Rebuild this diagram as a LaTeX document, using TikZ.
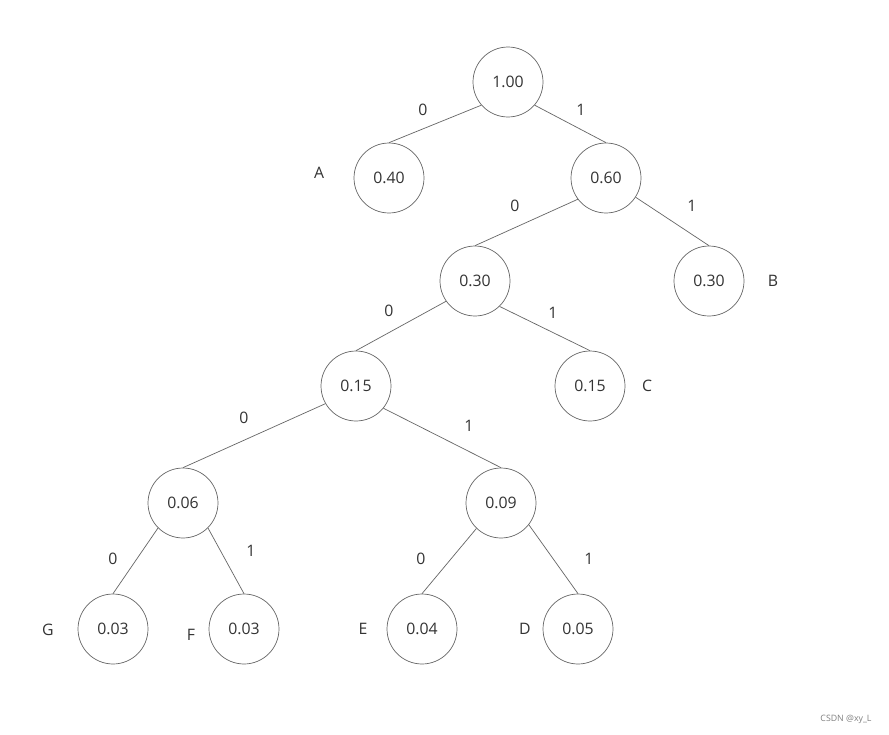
\documentclass[tikz,border=0pt]{standalone}
\usepackage{fontspec}
\setmainfont{Open Sans}
\usepackage{tikz}
\usetikzlibrary{positioning}
\usepackage{xcolor}

\definecolor{edgegray}{HTML}{666666}
\definecolor{textgray}{HTML}{333333}

\begin{document}
\begin{tikzpicture}[x=0.02cm, y=-0.02cm,
  prob/.style={circle,draw=edgegray,thin,minimum size=1.4cm,inner sep=0pt,
    font=\fontsize{9}{11}\selectfont,text=textgray},
  bit/.style={font=\fontsize{9}{11}\selectfont,text=textgray},
  sym/.style={font=\fontsize{9}{11}\selectfont,text=textgray},
  branch/.style={draw=edgegray,thin}]

\useasboundingbox[fill=white] (0,0) rectangle (889,734);

% ---- probabilities ---------------------------------------------------------
\node[prob] (root) at (508,82)  {1.00};
\node[prob] (pA)   at (389,178) {0.40};
\node[prob] (p060) at (606,178) {0.60};
\node[prob] (p030) at (475,281) {0.30};
\node[prob] (pB)   at (709,281) {0.30};
\node[prob] (p015) at (356,386) {0.15};
\node[prob] (pC)   at (590,386) {0.15};
\node[prob] (p006) at (183,503) {0.06};
\node[prob] (p009) at (501,503) {0.09};
\node[prob] (pG)   at (113,629) {0.03};
\node[prob] (pF)   at (244,629) {0.03};
\node[prob] (pE)   at (422,629) {0.04};
\node[prob] (pD)   at (578,629) {0.05};

% ---- branches --------------------------------------------------------------
\draw[branch] (root.-139) -- (pA.north);
\draw[branch] (root.-41)  -- (p060.north);
\draw[branch] (p060.-143) -- (p030.north);
\draw[branch] (p060.-33)  -- (pB.north);
\draw[branch] (p030.-145) -- (p015.north);
\draw[branch] (p030.-46)  -- (pC.north);
\draw[branch] (p015.-150) -- (p006.north);
\draw[branch] (p015.-39)  -- (p009.north);
\draw[branch] (p006.-135) -- (pG.north);
\draw[branch] (p006.-45)  -- (pF.north);
\draw[branch] (p009.-134) -- (pE.north);
\draw[branch] (p009.-38)  -- (pD.north);

% ---- code bits -------------------------------------------------------------
\node[bit] (b1) at (423,110) {0};
\node[bit] (b2) at (581,110) {1};
\node[bit] (b3) at (515,206) {0};
\node[bit] (b4) at (692,206) {1};
\node[bit] (b5) at (389,311) {0};
\node[bit] (b6) at (553,313) {1};
\node[bit] (b7) at (244,418) {0};
\node[bit] (b8) at (469,426) {1};
\node[bit] (b9) at (113,559) {0};
\node[bit] (b10) at (251,551) {1};
\node[bit] (b11) at (421,559) {0};
\node[bit] (b12) at (589,559) {1};

% ---- symbols ---------------------------------------------------------------
\node[sym] (sA) at (319,173) {A};
\node[sym] (sB) at (773,281) {B};
\node[sym] (sC) at (647,386) {C};
\node[sym] (sG) at (48,630)  {G};
\node[sym] (sF) at (191,635) {F};
\node[sym] (sE) at (363,629) {E};
\node[sym] (sD) at (525,629) {D};

\node[font=\fontsize{5}{6}\selectfont,text=gray] (mark) at (846,719) {CSDN @xy\_L};

\end{tikzpicture}
\end{document}
